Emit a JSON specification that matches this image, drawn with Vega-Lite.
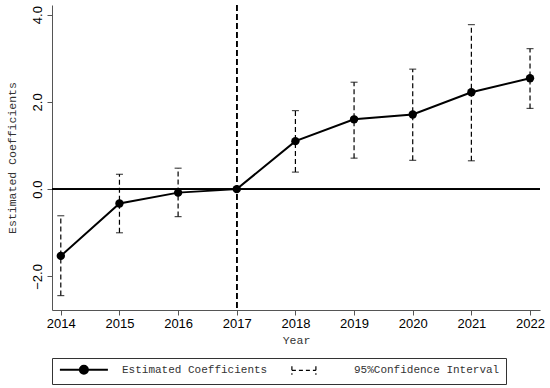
{
  "$schema": "https://vega.github.io/schema/vega-lite/v6.json",
  "width": 488,
  "height": 305,
  "autosize": {"type": "none"},
  "padding": {"left": 52, "top": 5, "right": 10, "bottom": 78},
  "background": "white",
  "config": {
    "view": {"stroke": null},
    "axis": {
      "grid": false,
      "domainColor": "#555",
      "tickColor": "#555",
      "tickSize": 5,
      "labelFont": "Liberation Sans",
      "labelFontSize": 13,
      "labelColor": "black",
      "titleFont": "Liberation Mono",
      "titleFontSize": 11.5,
      "titleFontWeight": "normal",
      "titleColor": "#333"
    }
  },
  "data": {
    "values": [
      {"year": 2014, "coef": -1.53, "lower": -2.44, "upper": -0.61},
      {"year": 2015, "coef": -0.33, "lower": -1.0, "upper": 0.34},
      {"year": 2016, "coef": -0.08, "lower": -0.63, "upper": 0.48},
      {"year": 2017, "coef": 0.0, "lower": null, "upper": null},
      {"year": 2018, "coef": 1.1, "lower": 0.39, "upper": 1.8},
      {"year": 2019, "coef": 1.6, "lower": 0.71, "upper": 2.45},
      {"year": 2020, "coef": 1.71, "lower": 0.66, "upper": 2.75},
      {"year": 2021, "coef": 2.22, "lower": 0.65, "upper": 3.77},
      {"year": 2022, "coef": 2.54, "lower": 1.85, "upper": 3.22}
    ]
  },
  "encoding": {
    "x": {
      "field": "year",
      "type": "quantitative",
      "scale": {"domain": [2013.85, 2022.17], "nice": false, "zero": false},
      "axis": {"values": [2014, 2015, 2016, 2017, 2018, 2019, 2020, 2021, 2022], "format": "d", "title": "Year", "labelPadding": 2, "titlePadding": 4}
    }
  },
  "layer": [
    {
      "mark": {"type": "rule", "color": "black", "strokeWidth": 0.9},
      "encoding": {"y": {"datum": 0, "type": "quantitative"}, "x": null}
    },
    {
      "mark": {"type": "rule", "color": "black", "strokeWidth": 0.9, "strokeDash": [6, 3]},
      "encoding": {"x": {"datum": 2017, "type": "quantitative"}}
    },
    {
      "transform": [{"filter": "datum.lower != null"}],
      "mark": {"type": "rule", "strokeWidth": 1.2, "strokeDash": [5, 3]},
      "encoding": {
        "y": {"field": "lower", "type": "quantitative"},
        "y2": {"field": "upper"},
        "color": {"datum": "95%Confidence Interval", "type": "nominal"}
      }
    },
    {
      "transform": [{"filter": "datum.lower != null"}],
      "mark": {"type": "tick", "orient": "horizontal", "size": 7, "thickness": 1.2},
      "encoding": {
        "y": {"field": "lower", "type": "quantitative"},
        "color": {"datum": "95%Confidence Interval", "type": "nominal"}
      }
    },
    {
      "transform": [{"filter": "datum.lower != null"}],
      "mark": {"type": "tick", "orient": "horizontal", "size": 7, "thickness": 1.2},
      "encoding": {
        "y": {"field": "upper", "type": "quantitative"},
        "color": {"datum": "95%Confidence Interval", "type": "nominal"}
      }
    },
    {
      "mark": {"type": "line", "strokeWidth": 2},
      "encoding": {
        "y": {
          "field": "coef",
          "type": "quantitative",
          "scale": {"domain": [-2.77, 4.22], "nice": false, "zero": false},
          "axis": {
            "values": [-2, 0, 2, 4],
            "format": ".1f",
            "title": "Estimated Coefficients",
            "labelAngle": -90,
            "labelAlign": "center",
            "labelBaseline": "bottom",
            "labelPadding": 3,
            "titlePadding": 14
          }
        },
        "color": {
          "datum": "Estimated Coefficients",
          "type": "nominal",
          "scale": {"domain": ["Estimated Coefficients", "95%Confidence Interval"], "range": ["black", "black"]},
          "legend": {
            "title": null,
            "orient": "bottom",
            "direction": "horizontal",
            "offset": 12,
            "padding": 6,
            "strokeColor": "#333",
            "symbolSize": 144,
            "labelOffset": 53,
            "columnPadding": 21,
            "labelFont": "Liberation Mono",
            "labelFontSize": 11,
            "labelColor": "#333",
            "encode": {
              "symbols": {
                "update": {
                  "shape": {"signal": "datum.value === 'Estimated Coefficients' ? 'M-0.6,0H7.4M2.73,0A0.67,0.67 0 1,0 4.07,0A0.67,0.67 0 1,0 2.73,0Z' : 'M-0.6,-0.7V0.7M-0.6,0H3.4M3.4,-0.7V0.7'"},
                  "fill": {"value": "black"},
                  "stroke": {"value": "black"},
                  "strokeWidth": {"signal": "datum.value === 'Estimated Coefficients' ? 2 : 1.2"},
                  "strokeDash": {"signal": "datum.value === 'Estimated Coefficients' ? [] : [4, 3]"},
                  "opacity": {"value": 1}
                }
              }
            }
          }
        }
      }
    },
    {
      "mark": {"type": "point", "filled": true, "size": 70, "opacity": 1},
      "encoding": {
        "y": {"field": "coef", "type": "quantitative"},
        "color": {"datum": "Estimated Coefficients", "type": "nominal"}
      }
    }
  ]
}
